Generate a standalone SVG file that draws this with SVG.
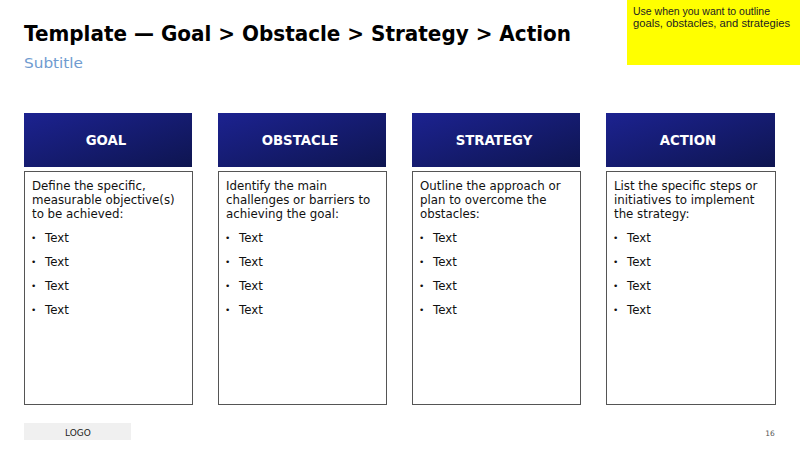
<svg xmlns="http://www.w3.org/2000/svg" width="800" height="450" viewBox="0 0 800 450">
<defs>
<linearGradient id="hdr" x1="0" y1="0" x2="1" y2="1">
<stop offset="0" stop-color="#1c2290"/>
<stop offset="1" stop-color="#0e1550"/>
</linearGradient>
<style>
.hd{fill:url(#hdr);}
.hdt{font-family:"DejaVu Sans",Verdana,sans-serif;font-weight:bold;font-size:13.3px;fill:#fff;text-anchor:middle;}
.bd{fill:#fff;stroke:#555;stroke-width:1;}
.bt{font-family:"DejaVu Sans",Verdana,sans-serif;font-size:11.8px;fill:#111;}
.bl{font-family:"DejaVu Sans",Verdana,sans-serif;font-size:9px;fill:#111;}
</style>
</defs>
<rect width="800" height="450" fill="#fff"/>
<text x="24" y="41" font-family="DejaVu Sans,sans-serif" font-weight="bold" font-size="22" fill="#000" textLength="547" lengthAdjust="spacingAndGlyphs">Template — Goal &gt; Obstacle &gt; Strategy &gt; Action</text>
<text x="24" y="68" font-family="DejaVu Sans,sans-serif" font-size="14" fill="#6f9bd0" textLength="59" lengthAdjust="spacingAndGlyphs">Subtitle</text>
<g id="note">
<rect x="627" y="0" width="173" height="65" fill="#ffff00"/>
<text font-family="Liberation Sans,sans-serif" font-size="10.5" fill="#222"><tspan x="633" y="15" textLength="137" lengthAdjust="spacingAndGlyphs">Use when you want to outline</tspan><tspan x="633" y="27" textLength="157" lengthAdjust="spacingAndGlyphs">goals, obstacles, and strategies</tspan></text>
</g>
<g id="goal">
<rect class="hd" x="24" y="113" width="168" height="54"/>
<text class="hdt" x="106" y="145">GOAL</text>
<rect class="bd" x="24.5" y="171.5" width="168" height="233"/>
<text class="bt"><tspan x="32" y="190">Define the specific,</tspan><tspan x="32" y="204">measurable objective(s)</tspan><tspan x="32" y="218">to be achieved:</tspan></text>
<text class="bl"><tspan x="31" y="241">•</tspan><tspan x="31" y="265">•</tspan><tspan x="31" y="289">•</tspan><tspan x="31" y="313">•</tspan></text>
<text class="bt"><tspan x="45" y="242">Text</tspan><tspan x="45" y="266">Text</tspan><tspan x="45" y="290">Text</tspan><tspan x="45" y="314">Text</tspan></text>
</g>
<g id="obstacle">
<rect class="hd" x="218" y="113" width="168" height="54"/>
<text class="hdt" x="300" y="145">OBSTACLE</text>
<rect class="bd" x="218.5" y="171.5" width="168" height="233"/>
<text class="bt"><tspan x="226" y="190">Identify the main</tspan><tspan x="226" y="204">challenges or barriers to</tspan><tspan x="226" y="218">achieving the goal:</tspan></text>
<text class="bl"><tspan x="225" y="241">•</tspan><tspan x="225" y="265">•</tspan><tspan x="225" y="289">•</tspan><tspan x="225" y="313">•</tspan></text>
<text class="bt"><tspan x="239" y="242">Text</tspan><tspan x="239" y="266">Text</tspan><tspan x="239" y="290">Text</tspan><tspan x="239" y="314">Text</tspan></text>
</g>
<g id="strategy">
<rect class="hd" x="412" y="113" width="168" height="54"/>
<text class="hdt" x="494" y="145">STRATEGY</text>
<rect class="bd" x="412.5" y="171.5" width="168" height="233"/>
<text class="bt"><tspan x="420" y="190">Outline the approach or</tspan><tspan x="420" y="204">plan to overcome the</tspan><tspan x="420" y="218">obstacles:</tspan></text>
<text class="bl"><tspan x="419" y="241">•</tspan><tspan x="419" y="265">•</tspan><tspan x="419" y="289">•</tspan><tspan x="419" y="313">•</tspan></text>
<text class="bt"><tspan x="433" y="242">Text</tspan><tspan x="433" y="266">Text</tspan><tspan x="433" y="290">Text</tspan><tspan x="433" y="314">Text</tspan></text>
</g>
<g id="action">
<rect class="hd" x="606" y="113" width="169" height="54"/>
<text class="hdt" x="688" y="145">ACTION</text>
<rect class="bd" x="606.5" y="171.5" width="169" height="233"/>
<text class="bt"><tspan x="614" y="190">List the specific steps or</tspan><tspan x="614" y="204">initiatives to implement</tspan><tspan x="614" y="218">the strategy:</tspan></text>
<text class="bl"><tspan x="613" y="241">•</tspan><tspan x="613" y="265">•</tspan><tspan x="613" y="289">•</tspan><tspan x="613" y="313">•</tspan></text>
<text class="bt"><tspan x="627" y="242">Text</tspan><tspan x="627" y="266">Text</tspan><tspan x="627" y="290">Text</tspan><tspan x="627" y="314">Text</tspan></text>
</g>
<g id="connectors"></g>
<g id="logo">
<rect x="24" y="423" width="107" height="17" fill="#f0f0f0"/>
<text x="78" y="435.5" font-family="DejaVu Sans,sans-serif" font-size="9" fill="#222" text-anchor="middle">LOGO</text>
</g>
<text x="770" y="436" font-family="DejaVu Sans,sans-serif" font-size="7.5" fill="#555" text-anchor="middle">16</text>
</svg>
